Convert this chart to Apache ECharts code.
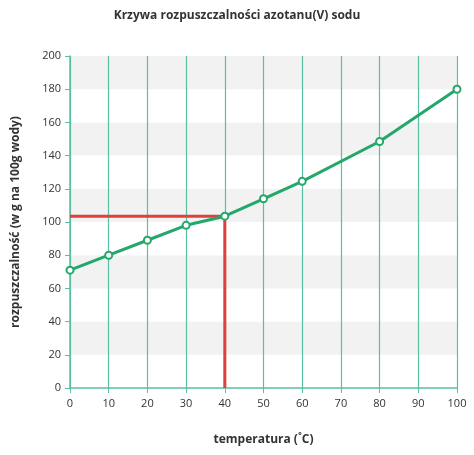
<!DOCTYPE html>
<html><head><meta charset="utf-8">
<script src="https://cdn.jsdelivr.net/npm/echarts@6/dist/echarts.min.js"></script>
<style>html,body{margin:0;padding:0;background:#fff}#c{width:474px;height:455px}</style>
</head><body><div id="c"></div>
<script>
const temps = [0, 10, 20, 30, 40, 50, 60, 80, 100];
const solubility = [71, 80, 89, 98, 103.5, 114, 124.5, 148.5, 180];
const readTemp = 40;
const readValue = 103.5;
const title = 'Krzywa rozpuszczalności azotanu(V) sodu';
const xName = 'temperatura (˚C)';
const yName = 'rozpuszczalność (w g na 100g wody)';
const font = '"Open Sans", sans-serif';
const teal = '#5bbfa6';
const chart = echarts.init(document.getElementById('c'));
chart.setOption({
  animation: false,
  title: {text: title, left: 'center', top: 5, textStyle: {fontFamily: font, fontSize: 12, fontWeight: 'bold', color: '#333'}},
  grid: {left: 70, right: 17, top: 56, bottom: 67},
  xAxis: {type: 'value', min: 0, max: 100, interval: 10,
    name: xName, nameLocation: 'middle', nameGap: 46,
    nameTextStyle: {fontFamily: font, fontSize: 12, fontWeight: 'bold', color: '#333'},
    axisLine: {lineStyle: {color: teal, width: 1.5}}, axisTick: {show: true, length: 5, lineStyle: {color: teal}},
    axisLabel: {fontFamily: font, fontSize: 11, color: '#333', margin: 10},
    splitLine: {show: true, lineStyle: {color: teal, width: 1.2}}},
  yAxis: {type: 'value', min: 0, max: 200, interval: 20,
    name: yName, nameLocation: 'middle', nameGap: 48,
    nameTextStyle: {fontFamily: font, fontSize: 12, fontWeight: 'bold', color: '#333'},
    axisLine: {show: true, lineStyle: {color: teal, width: 1.5}}, axisTick: {show: true, length: 5, lineStyle: {color: teal}},
    axisLabel: {fontFamily: font, fontSize: 11, color: '#333', margin: 9},
    splitLine: {show: false},
    splitArea: {show: true, areaStyle: {color: ['#ffffff', '#f2f2f2']}}},
  series: [
    {type: 'line', data: [[0, readValue], [readTemp, readValue]], symbol: 'none',
      lineStyle: {color: '#e0403a', width: 3}, z: 3},
    {type: 'line', data: [[readTemp, 0], [readTemp, readValue]], symbol: 'none',
      lineStyle: {color: '#e0403a', width: 3}, z: 3},
    {type: 'line', data: temps.map((t, i) => [t, solubility[i]]),
      symbol: 'circle', symbolSize: 7,
      itemStyle: {color: '#fff', borderColor: '#22a86a', borderWidth: 2},
      lineStyle: {color: '#22a86a', width: 3}, z: 5}
  ]
});
</script></body></html>
